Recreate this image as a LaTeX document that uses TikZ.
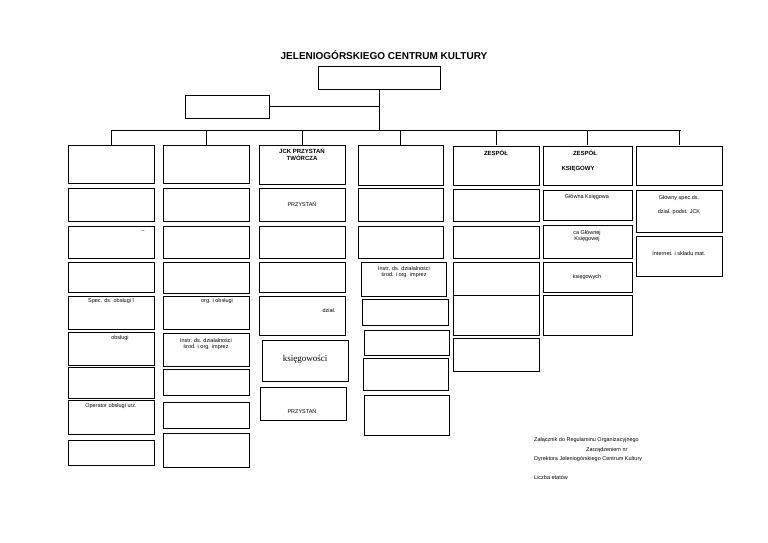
\documentclass[tikz,border=0pt]{standalone}
\usepackage{fontspec}
\setmainfont{Liberation Sans}
\newfontfamily\serifx{Liberation Serif}
\begin{document}
\begin{tikzpicture}[x=1pt,y=-1pt,
 bx/.style={draw,line width=0.8pt},
 t/.style={font=\fontsize{5.5}{6.5}\selectfont,align=center,inner sep=0pt},
 tb/.style={font=\fontsize{6}{7}\selectfont\bfseries,align=center,inner sep=0pt}]
\useasboundingbox (0,0) rectangle (768,543);
\newcommand\bxx[5]{\draw[bx] (#2,#3) rectangle (#4,#5) coordinate (#1);}
\node[font=\fontsize{10}{12}\selectfont\bfseries] (title) at (384,55) {JELENIOGÓRSKIEGO CENTRUM KULTURY};
\draw[bx] (318,66) rectangle (440,89);
\coordinate (topb) at (379,89);
\draw[bx] (185,95) rectangle (269,118);
\coordinate (sideb) at (269,106);
\coordinate (busm) at (379,130);
\draw[line width=0.7pt] (topb) -- (busm) (sideb) -- (379,106);
\draw[line width=0.7pt] (111,130) -- (681,130);
\foreach \x in {111,206,302,400,496,587,679} \draw[line width=0.7pt] (\x,130) -- (\x,145);
% col1
\foreach \a/\b in {145/183,188/221,226/258,262/292,296/329,332/365,367/398,400/434,440/465} \draw[bx] (68,\a) rectangle (154,\b);
\foreach \a/\b in {145/183,188/221,226/258,262/293,296/329,333/366,369/395,402/428,433/467} \draw[bx] (163,\a) rectangle (249,\b);
\foreach \a/\b in {145/184,188/221,226/258,262/292,296/335} \draw[bx] (259,\a) rectangle (345,\b);
\draw[bx] (262,340) rectangle (348,381);
\draw[bx] (260,387) rectangle (346,420);
\foreach \a/\b in {145/185,188/221,226/258} \draw[bx] (358,\a) rectangle (443,\b);
\draw[bx] (361,262) rectangle (446,296);
\draw[bx] (362,299) rectangle (448,325);
\draw[bx] (364,330) rectangle (449,355);
\draw[bx] (363,358) rectangle (448,390);
\draw[bx] (364,395) rectangle (449,435);
\foreach \a/\b in {146/185,189/221,226/258,262/295,295/335,338/371} \draw[bx] (453,\a) rectangle (539,\b);
\foreach \a/\b in {146/185,190/220,225/258,262/292,295/335} \draw[bx] (543,\a) rectangle (632,\b);
\foreach \a/\b in {146/185,190/232,236/276} \draw[bx] (636,\a) rectangle (722,\b);
% texts
\node[t] (n1) at (143,232) {--};
\node[t] (n2) at (111,301) {Spec. ds. obsługi l};
\node[t] (n3) at (120,338) {obsługi};
\node[t] (n4) at (111,406) {Operator obsługi urz.};
\node[t] (n5) at (217,301) {org. i obsługi};
\node[t] (n6) at (206,344) {Instr. ds. działalności\\środ. i org. imprez};
\node[tb] (n7) at (302,154) {JCK PRZYSTAŃ\\TWÓRCZA};
\node[t] (n8) at (302,204) {PRZYSTAŃ};
\node[t] (n9) at (329,311) {dział.};
\node[font=\serifx\fontsize{9}{10}\selectfont,inner sep=0pt] (n10) at (305,359) {księgowości};
\node[t] (n11) at (302,411) {PRZYSTAŃ};
\node[t] (n12) at (404,272) {Instr. ds. działalności\\środ. i org. imprez};
\node[tb] (n13) at (496,153) {ZESPÓŁ};
\node[tb] (n14) at (585,153) {ZESPÓŁ};
\node[tb] (n15) at (578,169) {KSIĘGOWY};
\node[t] (n16) at (587,197) {Główna Księgowa};
\node[t] (n17) at (587,236) {ca Głównej\\Księgowej};
\node[t] (n18) at (587,277) {księgowych};
\node[t] (n19) at (679,198) {Główny spec.ds.};
\node[t] (n20) at (679,212) {dział. podst. JCK};
\node[t] (n21) at (679,254) {Internet. i składu mat.};
\node[t,anchor=west] (f1) at (534,440) {Załącznik do Regulaminu Organizacyjnego};
\node[t,anchor=west] (f2) at (586,450) {Zarządzeniem nr};
\node[t,anchor=west] (f3) at (534,459) {Dyrektora Jeleniogórskiego Centrum Kultury};
\node[t,anchor=west] (f4) at (534,477) {Liczba etatów};
\end{tikzpicture}
\end{document}
